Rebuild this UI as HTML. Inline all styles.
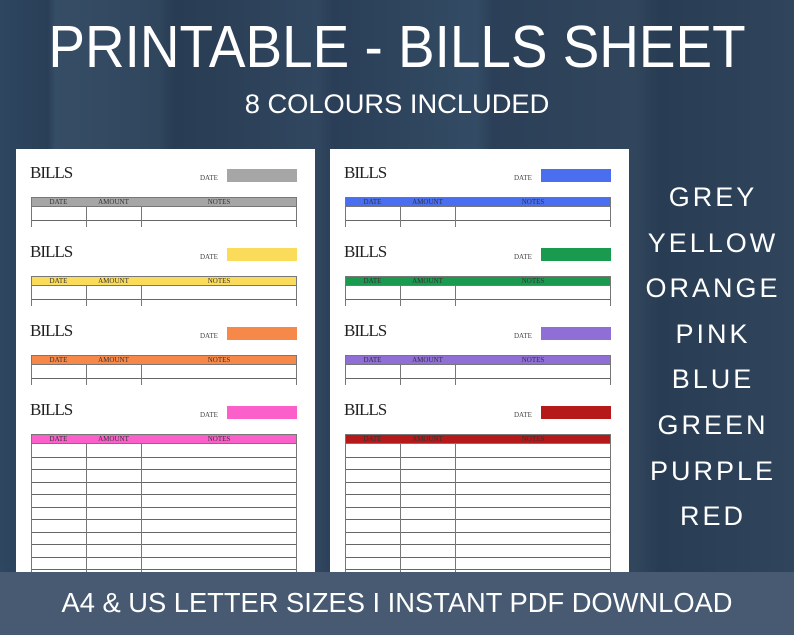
<!DOCTYPE html>
<html><head><meta charset="utf-8"><style>
body{margin:0;width:794px;height:635px;overflow:hidden;position:relative;font-family:"Liberation Sans",sans-serif;
background:linear-gradient(90deg,#2e4660 0,#2a3f57 6%,#364d66 7%,#30465d 20%,#283c53 22%,#31475f 40%,#2a3f57 42%,#334b64 60%,#2b4058 62%,#31465c 80%,#283c53 83%,#30455c 100%);}
.a{position:absolute}
.t{color:#fff;white-space:nowrap}
.page{position:absolute;background:#fff;top:149px;height:430px;width:299px}
.bt{font-family:"Liberation Serif",serif;font-size:17px;color:#222;letter-spacing:-1px}
.sm{font-family:"Liberation Serif",serif;font-size:7px;color:#444}
.hd{font-family:"Liberation Serif",serif;font-size:7px;color:#333;text-align:center;line-height:10px}
</style></head><body>
<div class="a t" style="left:0;width:794px;text-align:center;top:13px;font-size:59px;transform:scaleX(0.93)">PRINTABLE - BILLS SHEET</div>
<div class="a t" style="left:0;width:794px;text-align:center;top:89px;font-size:27px;transform:scaleX(1.01)">8 COLOURS INCLUDED</div>
<div class="page" id="p0" style="left:16px"></div>
<div class="page" id="p1" style="left:330px"></div>
<div id="list"></div>
<div class="a" style="left:0;top:572px;width:794px;height:63px;background:#475a72"></div>
<div class="a t" style="left:0;width:794px;text-align:center;top:587px;font-size:28px;transform:scaleX(0.975)">A4 &amp; US LETTER SIZES I INSTANT PDF DOWNLOAD</div>
<script>
const cols=[["#a6a6a6","#fbdb5a","#f6894a","#fb5fc9"],["#4a6ef0","#1a9a4f","#8f6fd6","#b5191a"]];
const names=["GREY","YELLOW","ORANGE","PINK","BLUE","GREEN","PURPLE","RED"];
function mk(p,css,cls,txt){const d=document.createElement('div');d.className='a '+(cls||'');d.style.cssText=css;if(txt)d.textContent=txt;p.appendChild(d);return d;}
for(let pi=0;pi<2;pi++){
 const p=document.getElementById('p'+pi);
 for(let s=0;s<4;s++){
  const y=s*79, c=cols[pi][s];
  const b=mk(p,`left:14px;top:${y+14}px`,'bt','BILLS');
  
  
  const dl=mk(p,`left:184px;top:${y+25}px`,'sm','DATE');
  
  
  const db=mk(p,`left:211px;top:${y+20}px;width:70px;height:13px;background:${c}`);
  
  
  const hd=mk(p,`left:15px;top:${y+48}px;width:266px;height:10px;background:${c};border:1px solid #777;box-sizing:border-box`);
  
  
  [["DATE",15,55],["AMOUNT",70,55],["NOTES",125,156]].forEach(h=>{
   const e=mk(p,`left:${h[1]}px;top:${y+48}px;width:${h[2]}px`,'hd',h[0]);
   
   
  });
  const rows=s==3?11:1, rh=s==3?12.5:13, end=s==3?430-(y+58):20;
  for(let r=1;r<=rows;r++){
   const l=mk(p,`left:15px;top:${y+58+r*rh}px;width:266px;height:1px;background:#666`);
   
   
  }
  [15,70,125,280].forEach(x=>{
   const v=mk(p,`left:${x}px;top:${y+58}px;width:1px;height:${end}px;background:#777`);
   
   
  });
 }
}
const L=document.getElementById('list');
names.forEach((n,i)=>{
 const e=mk(L,`left:640px;width:146px;text-align:center;top:${182+i*45.6}px;font-size:27px;letter-spacing:3px`,'t',n);
 
 
});
</script>
</body></html>
